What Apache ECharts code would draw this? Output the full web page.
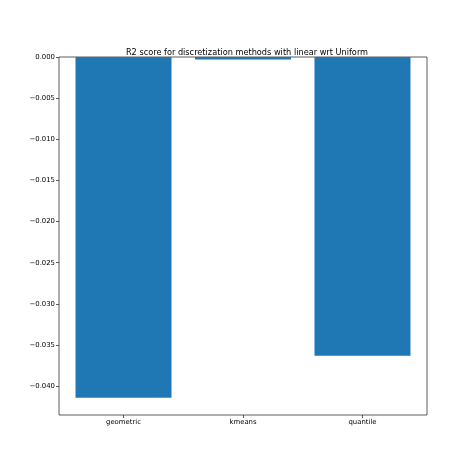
<!DOCTYPE html>
<html>
<head>
<meta charset="utf-8">
<script src="https://cdn.jsdelivr.net/npm/echarts@6/dist/echarts.min.js"></script>
<style>html,body{margin:0;padding:0;background:#fff}#c{width:474px;height:474px}</style>
</head>
<body>
<div id="c"></div>
<script>
const categories = ['geometric', 'kmeans', 'quantile'];
const r2Values = [-0.0414, -0.0003, -0.0363];
const yTicks = [0, -0.005, -0.010, -0.015, -0.020, -0.025, -0.030, -0.035, -0.040];
const titleText = 'R2 score for discretization methods with linear wrt Uniform';

const chart = echarts.init(document.getElementById('c'), null, {renderer: 'canvas'});
const font = 'DejaVu Sans';
chart.setOption({
  animation: false,
  backgroundColor: '#fff',
  title: {
    text: titleText, left: 242, top: 44, textAlign: 'center',
    textStyle: {fontFamily: font, fontSize: 8.2, fontWeight: 'normal', color: '#000'}
  },
  grid: {left: 59, right: 47, top: 57, bottom: 59, show: true, borderColor: '#333', borderWidth: 0.8, backgroundColor: 'transparent'},
  xAxis: {
    type: 'value', min: -0.54, max: 2.54,
    splitLine: {show: false},
    axisLine: {show: false, onZero: false},
    axisTick: {show: true, customValues: categories.map((c, i) => i), length: 3, lineStyle: {color: '#333', width: 0.8}},
    axisLabel: {customValues: categories.map((c, i) => i), formatter: v => categories[Math.round(v)] || '', fontFamily: font, fontSize: 6.9, color: '#000', margin: 4}
  },
  yAxis: {
    type: 'value', min: -0.0435, max: 0,
    splitLine: {show: false},
    axisLine: {show: false, onZero: false},
    axisTick: {show: true, customValues: yTicks, length: 3, lineStyle: {color: '#333', width: 0.8}},
    axisLabel: {customValues: yTicks, formatter: v => (v < -1e-9 ? '\u2212' : '') + Math.abs(v).toFixed(3), fontFamily: font, fontSize: 6.9, color: '#000', margin: 4}
  },
  series: [{
    type: 'bar',
    data: r2Values.map((v, i) => [i, v]),
    barWidth: 96,
    itemStyle: {color: '#1f77b4'}
  }]
});
</script>
</body>
</html>
